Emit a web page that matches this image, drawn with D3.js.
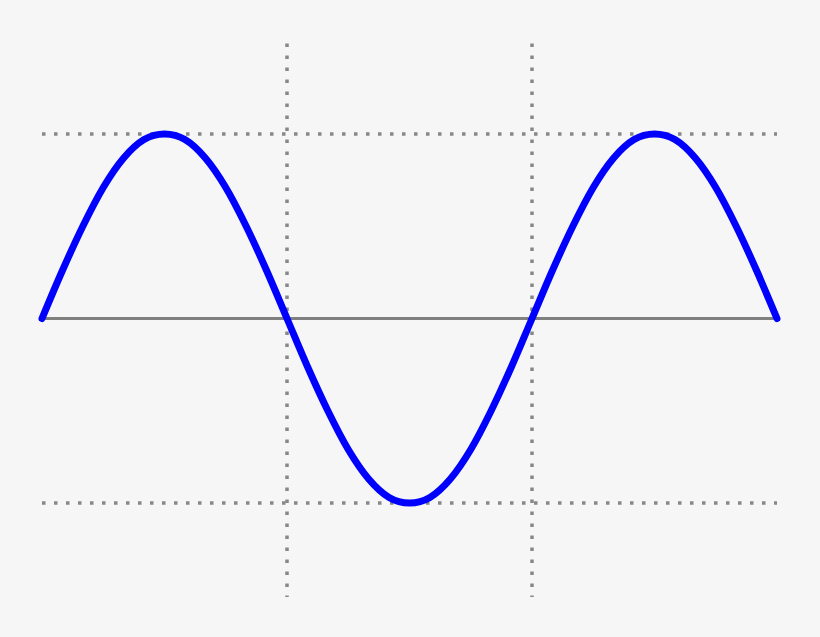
<!DOCTYPE html>
<html>
<head>
<meta charset="utf-8">
<script src="https://cdn.jsdelivr.net/npm/d3@7"></script>
<style>
  html, body { margin: 0; padding: 0; background: #f6f6f7; }
  #chart svg { display: block; }
</style>
</head>
<body>
<div id="chart"></div>
<script>
const width = 820;
const height = 637;

// phase in degrees, amplitude
const phases = [0, 15, 30, 45, 60, 75, 90, 105, 120, 135, 150, 165, 180,
                195, 210, 225, 240, 255, 270, 285, 300, 315, 330, 345, 360,
                375, 390, 405, 420, 435, 450, 465, 480, 495, 510, 525, 540];
const values = [0, 0.26, 0.5, 0.71, 0.87, 0.97, 1, 0.97, 0.87, 0.71, 0.5, 0.26, 0,
                -0.26, -0.5, -0.71, -0.87, -0.97, -1, -0.97, -0.87, -0.71, -0.5, -0.26, 0,
                0.26, 0.5, 0.71, 0.87, 0.97, 1, 0.97, 0.87, 0.71, 0.5, 0.26, 0];
const verticalGrid = [180, 360];
const horizontalGrid = [1, -1];

const x = d3.scaleLinear().domain([0, 540]).range([42, 777]);
const y = d3.scaleLinear().domain([-1, 1]).range([503, 134]);

const svg = d3.select("#chart")
    .append("svg")
    .attr("width", width)
    .attr("height", height);

svg.append("rect")
    .attr("width", width)
    .attr("height", height)
    .attr("fill", "#f6f6f7");

// dotted grid
svg.selectAll(".vgrid")
    .data(verticalGrid)
    .enter()
    .append("line")
    .attr("class", "vgrid")
    .attr("x1", d => x(d))
    .attr("x2", d => x(d))
    .attr("y1", y(1.49))
    .attr("y2", y(-1.51))
    .attr("stroke", "#888")
    .attr("stroke-width", 3.5)
    .attr("stroke-dasharray", "3.5,8.5");

svg.selectAll(".hgrid")
    .data(horizontalGrid)
    .enter()
    .append("line")
    .attr("class", "hgrid")
    .attr("x1", x(0))
    .attr("x2", x(540))
    .attr("y1", d => y(d))
    .attr("y2", d => y(d))
    .attr("stroke", "#888")
    .attr("stroke-width", 3.5)
    .attr("stroke-dasharray", "3.5,8.5");

// zero line
svg.append("line")
    .attr("x1", x(0))
    .attr("x2", x(540))
    .attr("y1", y(0))
    .attr("y2", y(0))
    .attr("stroke", "#808080")
    .attr("stroke-width", 3);

const line = d3.line()
    .x((d, i) => x(phases[i]))
    .y(d => y(d))
    .curve(d3.curveCardinal);

svg.append("path")
    .datum(values)
    .attr("d", line)
    .attr("fill", "none")
    .attr("stroke", "#0000ff")
    .attr("stroke-width", 7)
    .attr("stroke-linecap", "round")
    .attr("stroke-linejoin", "round");
</script>
</body>
</html>
